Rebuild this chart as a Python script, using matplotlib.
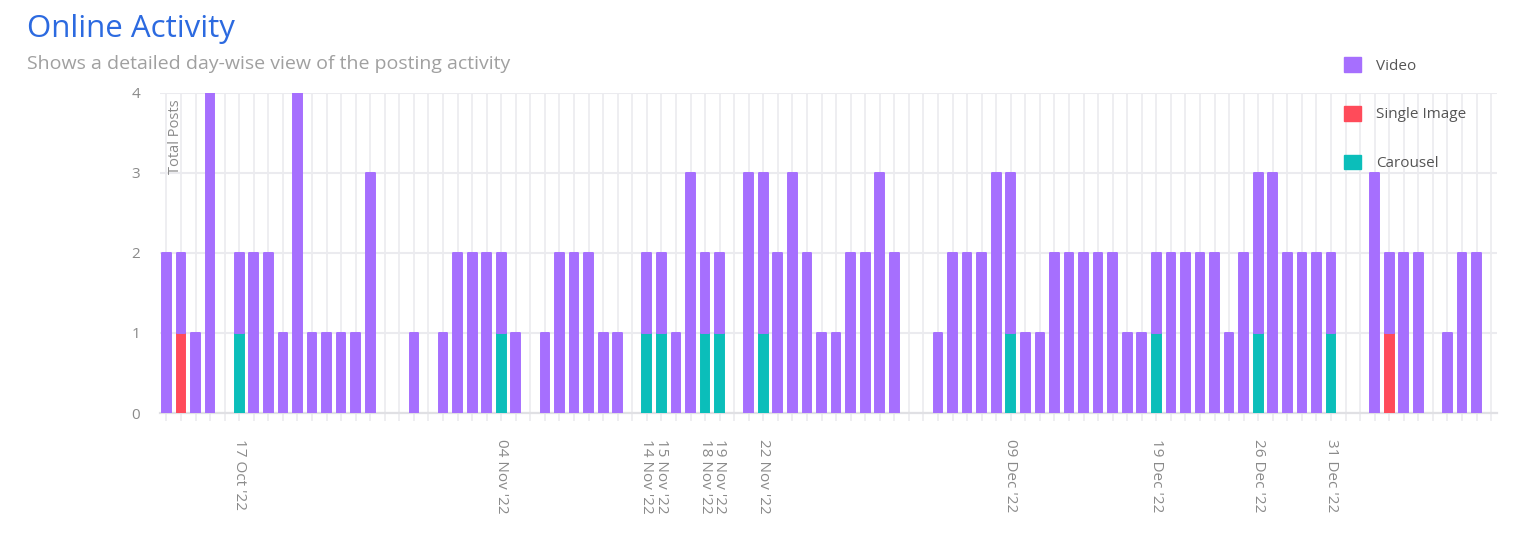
import numpy as np
import pandas as pd
import matplotlib
matplotlib.use('Agg')
import matplotlib.pyplot as plt
from matplotlib.patches import Patch

plt.rcParams['font.family'] = ['Open Sans', 'DejaVu Sans']

# Days shown on the x axis (one slot per day)
dates = pd.date_range('2022-10-12', periods=92, freq='D')

# Posts per day by type
video = [2, 1, 1, 4, 0, 1, 2, 2, 1, 4, 1, 1, 1, 1, 3, 0, 0, 1, 0, 1,
         2, 2, 2, 1, 1, 0, 1, 2, 2, 2, 1, 1, 0, 1, 1, 1, 3, 1, 1, 0,
         3, 2, 2, 3, 2, 1, 1, 2, 2, 3, 2, 0, 0, 1, 2, 2, 2, 3, 2, 1,
         1, 2, 2, 2, 2, 2, 1, 1, 1, 2, 2, 2, 2, 1, 2, 2, 3, 2, 2, 2,
         1, 0, 0, 3, 1, 2, 2, 0, 1, 2, 2, 0]
single_image = [0, 1, 0, 0, 0, 0, 0, 0, 0, 0, 0, 0, 0, 0, 0, 0, 0, 0, 0, 0,
                0, 0, 0, 0, 0, 0, 0, 0, 0, 0, 0, 0, 0, 0, 0, 0, 0, 0, 0, 0,
                0, 0, 0, 0, 0, 0, 0, 0, 0, 0, 0, 0, 0, 0, 0, 0, 0, 0, 0, 0,
                0, 0, 0, 0, 0, 0, 0, 0, 0, 0, 0, 0, 0, 0, 0, 0, 0, 0, 0, 0,
                0, 0, 0, 0, 1, 0, 0, 0, 0, 0, 0, 0]
carousel = [0, 0, 0, 0, 0, 1, 0, 0, 0, 0, 0, 0, 0, 0, 0, 0, 0, 0, 0, 0,
            0, 0, 0, 1, 0, 0, 0, 0, 0, 0, 0, 0, 0, 1, 1, 0, 0, 1, 1, 0,
            0, 1, 0, 0, 0, 0, 0, 0, 0, 0, 0, 0, 0, 0, 0, 0, 0, 0, 1, 0,
            0, 0, 0, 0, 0, 0, 0, 0, 1, 0, 0, 0, 0, 0, 0, 1, 0, 0, 0, 0,
            1, 0, 0, 0, 0, 0, 0, 0, 0, 0, 0, 0]

# Only these dates get a tick label
labelled = ['2022-10-17', '2022-11-04', '2022-11-14', '2022-11-15', '2022-11-18',
            '2022-11-19', '2022-11-22', '2022-12-09', '2022-12-19', '2022-12-26',
            '2022-12-31']

C_VIDEO = '#A66FFE'
C_SINGLE = '#FF4B5A'
C_CAROUSEL = '#0BBEBA'
GRID = '#EBEBEF'
TXT = '#8A8A8A'

x = np.arange(len(dates))
video = np.array(video, dtype=float)
single_image = np.array(single_image, dtype=float)
carousel = np.array(carousel, dtype=float)

fig = plt.figure(figsize=(15.36, 5.45), dpi=100)
ax = fig.add_axes([0.104, 0.2422, 0.8706, 0.5872])


def draw(vals, bottom, color):
    m = vals > 0
    ax.bar(x[m], vals[m], bottom=bottom[m], width=0.6, color=color,
           edgecolor=color, linewidth=1.4, joinstyle='round', zorder=3)


draw(single_image, np.zeros_like(video), C_SINGLE)
draw(carousel, single_image, C_CAROUSEL)
draw(video, single_image + carousel, C_VIDEO)

ax.set_xlim(-0.46, 91.4)
ax.set_ylim(0, 4)
ax.set_yticks([0, 1, 2, 3, 4])
ax.set_xticks(x, minor=True)

lab_dates = pd.to_datetime(labelled)
lab_pos = [dates.get_loc(d) for d in lab_dates]
ax.set_xticks(lab_pos, [d.strftime("%d %b '%y") for d in lab_dates])
for t in ax.get_xticklabels():
    t.set_rotation(-90)
    t.set_va('top')
    t.set_ha('center')

ax.tick_params(axis='x', which='both', length=6, color=GRID, width=1.2,
               labelsize=11, labelcolor=TXT, pad=13)
ax.tick_params(axis='y', length=0, labelsize=11, labelcolor=TXT, pad=14)

# grid: vertical at every day, horizontal at each integer
for xi in x:
    ax.axvline(xi, color=GRID, lw=1.2, zorder=0)
ax.grid(axis='y', color=GRID, lw=1.5, zorder=0)
ax.set_axisbelow(True)

for s in ['top', 'right', 'left']:
    ax.spines[s].set_visible(False)
ax.spines['bottom'].set_color('#E0E0E4')
ax.spines['bottom'].set_linewidth(1.6)

ax.text(0.012, 0.98, 'Total Posts', transform=ax.transAxes, rotation=90,
        ha='center', va='top', fontsize=10.5, color=TXT)

fig.text(0.0175, 0.946, 'Online Activity', fontsize=22.5, color='#2C6AE0',
         ha='left', va='center', fontweight='medium')
fig.text(0.0175, 0.882, 'Shows a detailed day-wise view of the posting activity',
         fontsize=14, color='#A0A0A0', ha='left', va='center')

handles = [Patch(color=C_VIDEO, label='Video'),
           Patch(color=C_SINGLE, label='Single Image'),
           Patch(color=C_CAROUSEL, label='Carousel')]
fig.legend(handles=handles, loc='upper left', bbox_to_anchor=(0.866, 0.92),
           frameon=False, fontsize=11, handlelength=1.1, handleheight=1.1,
           handletextpad=1.0, labelspacing=2.1, labelcolor='#555555')

fig.savefig('out.png', dpi=100)
